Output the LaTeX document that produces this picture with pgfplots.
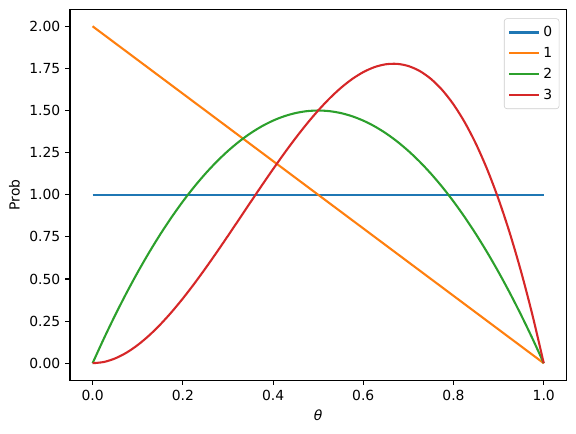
\documentclass[border=0pt]{standalone}
\usepackage{pgfplots}
\pgfplotsset{compat=1.18}
\usepackage{fontspec}
\setmainfont{DejaVu Sans}
\definecolor{tabblue}{HTML}{1F77B4}
\definecolor{taborange}{HTML}{FF7F0E}
\definecolor{tabgreen}{HTML}{2CA02C}
\definecolor{tabred}{HTML}{D62728}
\begin{document}
\begin{tikzpicture}
\useasboundingbox (-50.4pt,-38.5pt) rectangle (364.1pt,273.5pt);
\begin{axis}[
  scale only axis,
  width=357.12pt, height=266.7pt,
  xmin=-0.05, xmax=1.05,
  ymin=-0.1, ymax=2.1,
  xtick={0,0.2,0.4,0.6,0.8,1.0},
  ytick={0,0.25,0.5,0.75,1.0,1.25,1.5,1.75,2.0},
  xticklabel style={/pgf/number format/.cd,fixed,fixed zerofill,precision=1},
  yticklabel style={/pgf/number format/.cd,fixed,fixed zerofill,precision=2},
  /pgf/number format/assume math mode=true,
  tick align=outside,
  tick pos=left,
  major tick length=3.5pt,
  every tick/.style={black,line width=0.8pt},
  axis line style={line width=0.8pt},
  xlabel={{\itshape θ}},
  ylabel={Prob},
  legend style={at={(0.986,0.976)},anchor=north east,draw=black!20,rounded corners=2pt,
    font=\fontsize{10}{12}\selectfont,row sep=2.1pt,inner xsep=3pt,inner ysep=3.5pt},
  legend cell align=left,
  legend image code/.code={\draw[#1] (0pt,0pt) -- (21.6pt,0pt);},
]
\addplot[tabblue, line width=1.5pt] coordinates {(0,1) (1,1)};
\addlegendentry{0}
\addplot[taborange, line width=1.5pt] coordinates {(0,2) (1,0)};
\addlegendentry{1}
\addplot[tabgreen, line width=1.5pt, smooth] coordinates {
(0,0) (0.025,0.14625) (0.05,0.285) (0.075,0.41625) (0.1,0.54) (0.125,0.65625) (0.15,0.765)
(0.175,0.86625) (0.2,0.96) (0.225,1.04625) (0.25,1.125) (0.275,1.19625) (0.3,1.26)
(0.325,1.31625) (0.35,1.365) (0.375,1.40625) (0.4,1.44) (0.425,1.46625) (0.45,1.485)
(0.475,1.49625) (0.5,1.5) (0.525,1.49625) (0.55,1.485) (0.575,1.46625) (0.6,1.44)
(0.625,1.40625) (0.65,1.365) (0.675,1.31625) (0.7,1.26) (0.725,1.19625) (0.75,1.125)
(0.775,1.04625) (0.8,0.96) (0.825,0.86625) (0.85,0.765) (0.875,0.65625) (0.9,0.54)
(0.925,0.41625) (0.95,0.285) (0.975,0.14625) (1,0)
};
\addlegendentry{2}
\addplot[tabred, line width=1.5pt, smooth] coordinates {
(0,0) (0.025,0.0073) (0.05,0.0285) (0.075,0.0624) (0.1,0.108) (0.125,0.1641) (0.15,0.2295)
(0.175,0.3032) (0.2,0.384) (0.225,0.4708) (0.25,0.5625) (0.275,0.6579) (0.3,0.756)
(0.325,0.8556) (0.35,0.9555) (0.375,1.0547) (0.4,1.152) (0.425,1.2463) (0.45,1.3365)
(0.475,1.4214) (0.5,1.5) (0.525,1.5711) (0.55,1.6335) (0.575,1.6862) (0.6,1.728)
(0.625,1.7578) (0.65,1.7745) (0.675,1.7769) (0.7,1.764) (0.725,1.7346) (0.75,1.6875)
(0.775,1.6217) (0.8,1.536) (0.825,1.4293) (0.85,1.3005) (0.875,1.1484) (0.9,0.972)
(0.925,0.7701) (0.95,0.5415) (0.975,0.2852) (1,0)
};
\addlegendentry{3}
\end{axis}
\end{tikzpicture}
\end{document}
